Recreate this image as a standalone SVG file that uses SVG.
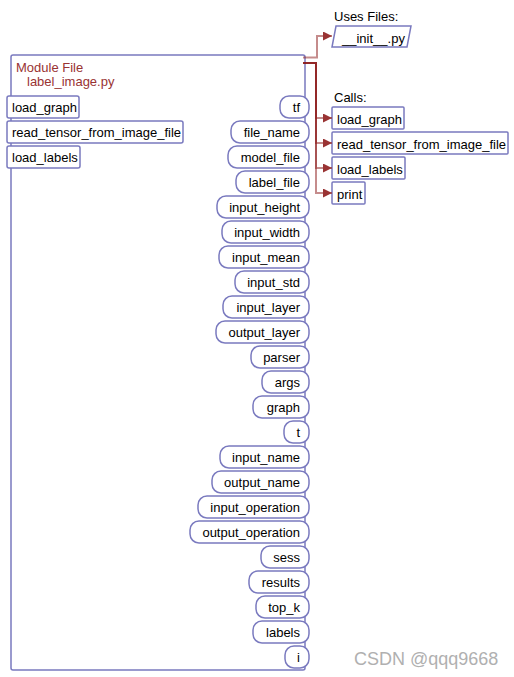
<svg xmlns="http://www.w3.org/2000/svg" width="514" height="677" viewBox="0 0 514 677">
<style>
text{font-family:"Liberation Sans",Arial,sans-serif;font-size:13px;fill:#000}
.n{fill:#fff;stroke:#7a7abf;stroke-width:1.5}
.v rect{fill:#fff;stroke:#7a7abf;stroke-width:1.5}
.v text{text-anchor:end}
.red{fill:#993333}
.c{fill:none;stroke:#8b1a1a;stroke-opacity:0.5;stroke-width:2}
.wm{fill:#b0b0b0;font-size:18px}
</style>
<defs>
<marker id="ah" viewBox="0 0 10 10" refX="10" refY="5" markerWidth="9" markerHeight="9" markerUnits="userSpaceOnUse" orient="auto">
<path d="M0,0 L10,5 L0,10 z" fill="#993333"/>
</marker>
</defs>
<rect width="514" height="677" fill="#fff"/>

<g id="module">
<rect class="n" x="11" y="55" width="294" height="615" rx="2"/>
<text class="red" x="16" y="72">Module File</text>
<text class="red" x="27" y="86">label_image.py</text>
</g>

<g id="f_load_graph"><rect class="n" x="7" y="96" width="72" height="22" rx="2"/><text x="12" y="112">load_graph</text></g>
<g id="f_read_tensor"><rect class="n" x="7" y="121" width="176" height="22" rx="2"/><text x="12" y="137">read_tensor_from_image_file</text></g>
<g id="f_load_labels"><rect class="n" x="7" y="146" width="73" height="22" rx="2"/><text x="12" y="162">load_labels</text></g>

<g class="v">
<g id="v_tf"><rect x="280" y="96" width="29" height="22" rx="9"/><text x="300" y="112">tf</text></g>
<g id="v_file_name"><rect x="231" y="121" width="78" height="22" rx="9"/><text x="300" y="137">file_name</text></g>
<g id="v_model_file"><rect x="228" y="146" width="81" height="22" rx="9"/><text x="300" y="162">model_file</text></g>
<g id="v_label_file"><rect x="236" y="171" width="73" height="22" rx="9"/><text x="300" y="187">label_file</text></g>
<g id="v_input_height"><rect x="217" y="196" width="92" height="22" rx="9"/><text x="300" y="212">input_height</text></g>
<g id="v_input_width"><rect x="222" y="221" width="87" height="22" rx="9"/><text x="300" y="237">input_width</text></g>
<g id="v_input_mean"><rect x="219" y="246" width="90" height="22" rx="9"/><text x="300" y="262">input_mean</text></g>
<g id="v_input_std"><rect x="235" y="271" width="74" height="22" rx="9"/><text x="300" y="287">input_std</text></g>
<g id="v_input_layer"><rect x="223" y="296" width="86" height="22" rx="9"/><text x="300" y="312">input_layer</text></g>
<g id="v_output_layer"><rect x="216" y="321" width="93" height="22" rx="9"/><text x="300" y="337">output_layer</text></g>
<g id="v_parser"><rect x="251" y="346" width="58" height="22" rx="9"/><text x="300" y="362">parser</text></g>
<g id="v_args"><rect x="262" y="371" width="47" height="22" rx="9"/><text x="300" y="387">args</text></g>
<g id="v_graph"><rect x="253" y="396" width="56" height="22" rx="9"/><text x="300" y="412">graph</text></g>
<g id="v_t"><rect x="284" y="421" width="25" height="22" rx="9"/><text x="300" y="437">t</text></g>
<g id="v_input_name"><rect x="220" y="446" width="89" height="22" rx="9"/><text x="300" y="462">input_name</text></g>
<g id="v_output_name"><rect x="212" y="471" width="97" height="22" rx="9"/><text x="300" y="487">output_name</text></g>
<g id="v_input_operation"><rect x="198" y="496" width="111" height="22" rx="9"/><text x="300" y="512">input_operation</text></g>
<g id="v_output_operation"><rect x="190" y="521" width="119" height="22" rx="9"/><text x="300" y="537">output_operation</text></g>
<g id="v_sess"><rect x="261" y="546" width="48" height="22" rx="9"/><text x="300" y="562">sess</text></g>
<g id="v_results"><rect x="249" y="571" width="60" height="22" rx="9"/><text x="300" y="587">results</text></g>
<g id="v_top_k"><rect x="256" y="596" width="53" height="22" rx="9"/><text x="300" y="612">top_k</text></g>
<g id="v_labels"><rect x="253" y="621" width="56" height="22" rx="9"/><text x="300" y="637">labels</text></g>
<g id="v_i"><rect x="285" y="646" width="24" height="22" rx="9"/><text x="300" y="662">i</text></g>
</g>

<text x="334" y="21">Uses Files:</text>
<g id="u_init"><polygon class="n" points="336,26 411,26 407,47 332,47"/><text x="342" y="43">__init__.py</text></g>

<text x="334" y="102">Calls:</text>
<g id="c_load_graph"><rect class="n" x="332" y="107" width="72" height="22" rx="1"/><text x="337" y="124">load_graph</text></g>
<g id="c_read_tensor"><rect class="n" x="332" y="132" width="176" height="22" rx="1"/><text x="337" y="149">read_tensor_from_image_file</text></g>
<g id="c_load_labels"><rect class="n" x="332" y="157" width="73" height="22" rx="1"/><text x="337" y="174">load_labels</text></g>
<g id="c_print"><rect class="n" x="332" y="182" width="33" height="22" rx="1"/><text x="337" y="199">print</text></g>

<g id="connectors">
<path class="c" d="M303,57.5 H317 V36 H332" marker-end="url(#ah)"/>
<path class="c" d="M303,63 H316 V118 H332" marker-end="url(#ah)"/>
<path class="c" d="M303,63 H316 V143 H332" marker-end="url(#ah)"/>
<path class="c" d="M303,63 H316 V168 H332" marker-end="url(#ah)"/>
<path class="c" d="M303,63 H316 V193 H332" marker-end="url(#ah)"/>
</g>

<text class="wm" x="354" y="665">CSDN @qqq9668</text>
</svg>
